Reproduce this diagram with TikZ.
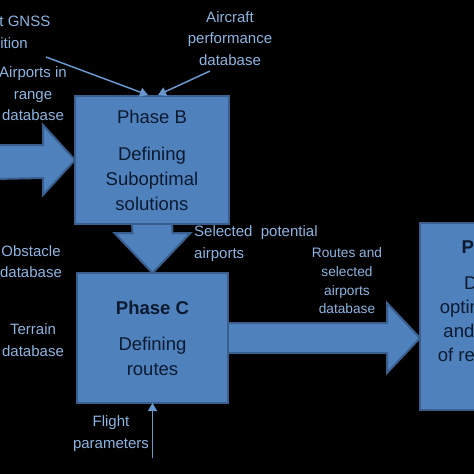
\documentclass[tikz,border=0pt]{standalone}
\usepackage{fontspec}
\setmainfont{Liberation Sans}
\usetikzlibrary{arrows.meta,calc}
\definecolor{boxfill}{HTML}{4F81BD}
\definecolor{boxline}{HTML}{3A5F8E}
\definecolor{boxtxt}{HTML}{0C1A30}
\definecolor{lbl}{HTML}{8DB4E2}
\definecolor{thinline}{HTML}{6B97CF}
\pgfdeclarelayer{bgzero}
\pgfdeclarelayer{bgone}
\pgfsetlayers{bgzero,bgone,main}
\begin{document}
\begin{tikzpicture}[x=1pt,y=-1pt,
  phase/.style={draw=boxline,fill=boxfill,line width=2pt,inner sep=0pt,outer sep=0pt,text=boxtxt,align=center,font=\fontsize{18.5}{25}\selectfont},
  boxtext/.style={text=boxtxt,align=center,inner sep=0pt,font=\fontsize{18.5}{24}\selectfont},
  lab/.style={text=lbl,align=center,inner sep=0pt,font=\fontsize{15}{21.5}\selectfont},
  labsmall/.style={text=lbl,align=center,inner sep=0pt,font=\fontsize{13.7}{18.7}\selectfont},
  blockarrow/.style={draw=boxline,fill=boxfill,line width=2pt,line join=miter},
  feed/.style={draw=thinline,line width=1.5pt,-{Triangle[length=8pt,width=9pt]}}]
\useasboundingbox (0,0) rectangle (474,474);
\begin{pgfonlayer}{bgzero}
\fill[black] (0,0) rectangle (474,474);
\end{pgfonlayer}
\clip (0,0) rectangle (474,474);

% phase boxes
\node[phase,minimum width=154,minimum height=128] (B) at (152,160)
  {Phase B\\[12pt]Defining\\Suboptimal\\solutions};
\node[phase,minimum width=151,minimum height=130] (C) at (152.5,338)
  {\textbf{Phase C}\\[11pt]Defining\\routes};
\node[phase,minimum width=154,minimum height=187] (D) at (497,316.5) {};
\node[boxtext] (Dt) at (498,301)
  {\textbf{Phase D}\\[12pt]Defining\\optimal routes\\and selection\\of recalculated};

% labels
\node[lab] (gnss) at (2,34) {Current GNSS\\position};
\node[lab] (perf) at (230,38.5) {Aircraft\\performance\\database};
\node[lab] (range) at (33,94) {Airports in\\range\\database};
\node[lab] (obst) at (31,261.5) {Obstacle\\database};
\node[lab] (terr) at (33,340) {Terrain\\database};
\node[lab] (flight) at (111,433.5) {Flight\\parameters};
\node[lab,anchor=west,align=left] (sel) at (194,243.5) {Selected\ \ potential\\airports};
\node[labsmall] (routes) at (347,281) {Routes and\\selected\\airports\\database};

% block arrows
\coordinate (Lin) at (-5,161);
\begin{pgfonlayer}{bgone}
\draw[blockarrow] ($(Lin)+(0,-16)$) -- ($(B.west)+(-32,-15)$) -- ($(B.west)+(-32,-35)$)
  -- (B.west) -- ($(B.west)+(-32,35)$) -- ($(B.west)+(-32,18)$) -- ($(Lin)+(0,18)$) -- cycle;
\draw[blockarrow] ($(B.south)+(-20,-2)$) -- ($(C.north)+(-20,-40)$) -- ($(C.north)+(-38,-40)$)
  -- (C.north) -- ($(C.north)+(38,-40)$) -- ($(C.north)+(20,-40)$) -- ($(B.south)+(20,-2)$) -- cycle;
\coordinate (Dtip) at (D.west |- C.east);
\draw[blockarrow] ($(C.east)+(-2,-15)$) -- ($(Dtip)+(-33,-15)$) -- ($(Dtip)+(-33,-35)$)
  -- (Dtip) -- ($(Dtip)+(-33,35)$) -- ($(Dtip)+(-33,15)$) -- ($(C.east)+(-2,15)$) -- cycle;
\end{pgfonlayer}

% thin feed arrows
\coordinate (gS) at (46,57);
\coordinate (pS) at (210,71);
\coordinate (fS) at (152.5,458);
\draw[feed] (gS) -- ($(B.north)+(-4,-1)$);
\draw[feed] (pS) -- ($(B.north)+(6,-1)$);
\draw[feed] (fS) -- (C.south);
\end{tikzpicture}
\end{document}
